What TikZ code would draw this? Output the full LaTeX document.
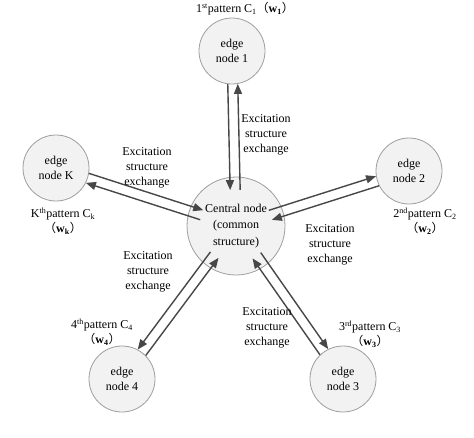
\documentclass[tikz,border=0pt]{standalone}
\usepackage{fontspec}
\setmainfont{Liberation Serif}
\newfontfamily\cjk{Noto Sans CJK SC}
\usetikzlibrary{calc,arrows.meta}
\newcommand{\lpar}{{\cjk （}}
\newcommand{\rpar}{{\cjk ）}}
% #1 edge node, #2 side angle of the centre->edge line, #3 its negation
\newcommand{\linkpair}[3]{%
  \path ($(C)!36pt!(#1)$) coordinate (c#1) ($(#1)!33pt!(C)$) coordinate (e#1);
  \draw[arr] ($(c#1)!5pt!#2:(e#1)$) -- ($(e#1)!5pt!#3:(c#1)$);
  \draw[arr] ($(e#1)!5pt!#2:(c#1)$) -- ($(c#1)!5pt!#3:(e#1)$);
}
\begin{document}
\begin{tikzpicture}[x=1pt,y=-1pt,
  txt/.style={font=\fontsize{12}{15}\selectfont, align=center, inner sep=0pt},
  enode/.style={circle, draw=black!38, line width=0.8pt, fill=black!5,
    minimum size=66pt, inner sep=0pt, txt},
  cnode/.style={enode, minimum size=98pt, font=\fontsize{12}{16.5}\selectfont},
  arr/.style={draw=black!72, line width=1.4pt, -{Triangle[length=10pt,width=8pt]}}]
\useasboundingbox (0,0) rectangle (474,437);

\node[cnode] (C) at (236,226) {Central node\\(common\\structure)};
\node[enode] (1) at (232,51) {edge\\node 1};
\node[enode] (K) at (56,168) {edge\\node K};
\node[enode] (2) at (409,171) {edge\\node 2};
\node[enode] (4) at (122,379) {edge\\node 4};
\node[enode] (3) at (343,379) {edge\\node 3};

\linkpair{1}{-90}{90}
\linkpair{K}{90}{-90}
\linkpair{2}{90}{-90}
\linkpair{4}{-90}{90}
\linkpair{3}{90}{-90}

% exchange labels
\node[txt] (x1) at (266,135) {Excitation\\structure\\exchange};
\node[txt] (xK) at (147,168) {Excitation\\structure\\exchange};
\node[txt] (x2) at (330,245) {Excitation\\structure\\exchange};
\node[txt] (x4) at (148,272) {Excitation\\structure\\exchange};
\node[txt] (x3) at (267,328) {Excitation\\structure\\exchange};

% pattern labels
\node[txt] (p1) at (245,9) {1\textsuperscript{st}pattern C\textsubscript{1}\lpar\textbf{w}\textsubscript{\textbf{1}}\rpar};
\node[txt] (pK) at (63,221) {K\textsuperscript{th}pattern C\textsubscript{k}\\\lpar\textbf{w}\textsubscript{\textbf{k}}\rpar};
\node[txt] (p2) at (425,221) {2\textsuperscript{nd}pattern C\textsubscript{2}\\\lpar\textbf{w}\textsubscript{\textbf{2}}\rpar};
\node[txt] (p4) at (102,332) {4\textsuperscript{th}pattern C\textsubscript{4}\\\lpar\textbf{w}\textsubscript{\textbf{4}}\rpar};
\node[txt] (p3) at (370,334) {3\textsuperscript{rd}pattern C\textsubscript{3}\\\lpar\textbf{w}\textsubscript{\textbf{3}}\rpar};
\end{tikzpicture}
\end{document}
